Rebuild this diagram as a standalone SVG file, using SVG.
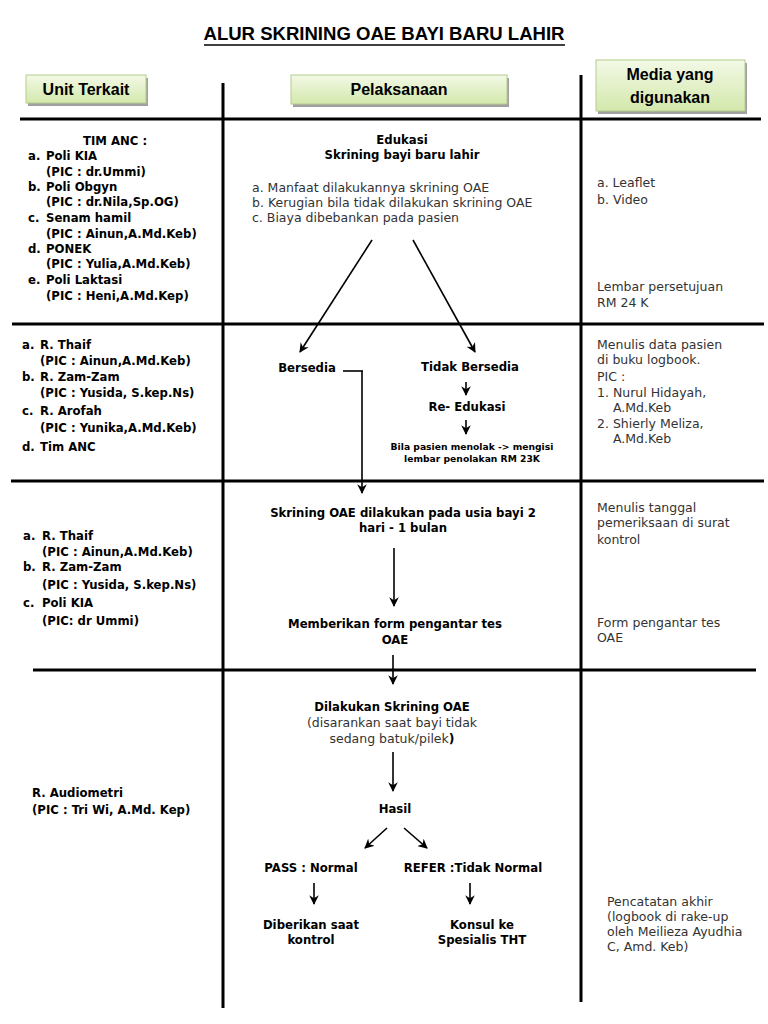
<svg xmlns="http://www.w3.org/2000/svg" width="768" height="1024" viewBox="0 0 768 1024">
<style>
text{font-family:"DejaVu Sans","Open Sans",sans-serif;fill:#000}
.b{font-weight:bold;font-size:11.7px}
.r{font-size:12.5px;fill:#333}
.s{font-weight:bold;font-size:9.2px}
.h{font-family:"Liberation Sans",Arial,sans-serif;font-weight:bold;font-size:16px}
.c{text-anchor:middle}
.sep{stroke:#000;stroke-width:3;fill:none}
.ar{stroke:#000;stroke-width:1.6;fill:none;marker-end:url(#ah)}
.ln{stroke:#000;stroke-width:1.6;fill:none}
.box{fill:url(#g);stroke:#b5cc8e;stroke-width:1}
.sh{fill:#a0a0a0}
</style>
<defs>
<linearGradient id="g" x1="0" y1="0" x2="0" y2="1"><stop offset="0" stop-color="#f3f9e6"/><stop offset="1" stop-color="#d3e8ac"/></linearGradient>
<marker id="ah" viewBox="0 0 10 10" refX="9" refY="5" markerWidth="6" markerHeight="6" orient="auto" markerUnits="strokeWidth"><path d="M0,0 L10,5 L0,10 L3,5 z" fill="#000"/></marker>
</defs>
<rect width="768" height="1024" fill="#fff"/>
<g id="title">
<text x="384" y="40" text-anchor="middle" style="font-family:'Liberation Sans',sans-serif;font-weight:bold;font-size:19px" textLength="361" lengthAdjust="spacingAndGlyphs">ALUR SKRINING OAE BAYI BARU LAHIR</text>
<line x1="204" y1="45" x2="565" y2="45" stroke="#000" stroke-width="1.5"/>
</g>
<g id="grid">
<line class="sep" x1="223" y1="83" x2="223" y2="1008"/>
<line class="sep" x1="581" y1="75" x2="581" y2="1002"/>
<line class="sep" x1="20" y1="119" x2="761" y2="119"/>
<line class="sep" x1="12" y1="324" x2="764" y2="324"/>
<line class="sep" x1="11" y1="481" x2="764" y2="481"/>
<line class="sep" x1="33" y1="670" x2="756" y2="670"/>
</g>
<g id="hdr-unit">
<rect class="sh" x="28" y="78" width="120" height="28"/>
<rect class="box" x="26" y="75" width="120" height="28"/>
<text class="h c" x="86" y="95">Unit Terkait</text>
</g>
<g id="hdr-pelaksanaan">
<rect class="sh" x="293" y="78" width="216" height="29"/>
<rect class="box" x="291" y="75" width="216" height="29"/>
<text class="h c" x="399" y="95">Pelaksanaan</text>
</g>
<g id="hdr-media">
<rect class="sh" x="598" y="63" width="149" height="51"/>
<rect class="box" x="596" y="60" width="149" height="51"/>
<text class="h c" x="670" y="80">Media yang</text>
<text class="h c" x="670" y="103">digunakan</text>
</g>
<g id="unit-1">
<text class="b c" x="115" y="145">TIM ANC :</text>
<text class="b" x="28" y="160">a.<tspan x="46">Poli KIA</tspan></text>
<text class="b" x="46" y="176">(PIC : dr.Ummi)</text>
<text class="b" x="28" y="191">b.<tspan x="46">Poli Obgyn</tspan></text>
<text class="b" x="46" y="206">(PIC : dr.Nila,Sp.OG)</text>
<text class="b" x="28" y="222">c.<tspan x="46">Senam hamil</tspan></text>
<text class="b" x="46" y="238">(PIC : Ainun,A.Md.Keb)</text>
<text class="b" x="28" y="253">d.<tspan x="46">PONEK</tspan></text>
<text class="b" x="46" y="268">(PIC : Yulia,A.Md.Keb)</text>
<text class="b" x="28" y="284">e.<tspan x="46">Poli Laktasi</tspan></text>
<text class="b" x="46" y="300">(PIC : Heni,A.Md.Kep)</text>
</g>
<g id="unit-2">
<text class="b" x="22" y="349">a.<tspan x="40">R. Thaif</tspan></text>
<text class="b" x="40" y="365">(PIC : Ainun,A.Md.Keb)</text>
<text class="b" x="22" y="381">b.<tspan x="40">R. Zam-Zam</tspan></text>
<text class="b" x="40" y="397">(PIC : Yusida, S.kep.Ns)</text>
<text class="b" x="22" y="415">c.<tspan x="40">R. Arofah</tspan></text>
<text class="b" x="40" y="432">(PIC : Yunika,A.Md.Keb)</text>
<text class="b" x="22" y="451">d.<tspan x="40">Tim ANC</tspan></text>
</g>
<g id="unit-3">
<text class="b" x="23" y="540">a.<tspan x="42">R. Thaif</tspan></text>
<text class="b" x="42" y="556">(PIC : Ainun,A.Md.Keb)</text>
<text class="b" x="23" y="571">b.<tspan x="42">R. Zam-Zam</tspan></text>
<text class="b" x="42" y="589">(PIC : Yusida, S.kep.Ns)</text>
<text class="b" x="23" y="607">c.<tspan x="42">Poli KIA</tspan></text>
<text class="b" x="42" y="625">(PIC: dr Ummi)</text>
</g>
<g id="unit-4">
<text class="b" x="32" y="797">R. Audiometri</text>
<text class="b" x="32" y="814">(PIC : Tri Wi, A.Md. Kep)</text>
</g>
<g id="edukasi">
<text class="b c" x="402" y="144">Edukasi</text>
<text class="b c" x="402" y="159">Skrining bayi baru lahir</text>
<text class="r" x="252" y="192">a. Manfaat dilakukannya skrining OAE</text>
<text class="r" x="252" y="207">b. Kerugian bila tidak dilakukan skrining OAE</text>
<text class="r" x="252" y="222">c.  Biaya dibebankan pada pasien</text>
</g>
<g id="bersedia"><text class="b c" x="307" y="372">Bersedia</text></g>
<g id="tidak-bersedia"><text class="b c" x="470" y="371">Tidak Bersedia</text></g>
<g id="re-edukasi"><text class="b c" x="467" y="411">Re- Edukasi</text></g>
<g id="menolak">
<text class="s c" x="472" y="450">Bila pasien menolak -&gt; mengisi</text>
<text class="s c" x="472" y="462">lembar penolakan RM 23K</text>
</g>
<g id="skrining-usia">
<text class="b c" x="403" y="517">Skrining OAE dilakukan pada usia bayi 2</text>
<text class="b c" x="403" y="532">hari - 1 bulan</text>
</g>
<g id="form">
<text class="b c" x="395" y="628">Memberikan form pengantar tes</text>
<text class="b c" x="395" y="644">OAE</text>
</g>
<g id="dilakukan">
<text class="b c" x="392" y="711">Dilakukan Skrining OAE</text>
<text class="r c" x="392" y="727">(disarankan saat bayi tidak</text>
<text class="r c" x="392" y="743">sedang batuk/pilek<tspan style="font-weight:bold;fill:#000">)</tspan></text>
</g>
<g id="hasil"><text class="b c" x="395" y="813">Hasil</text></g>
<g id="pass"><text class="b c" x="311" y="872">PASS : Normal</text></g>
<g id="refer"><text class="b c" x="473" y="872">REFER :Tidak Normal</text></g>
<g id="kontrol">
<text class="b c" x="311" y="929">Diberikan saat</text>
<text class="b c" x="311" y="944">kontrol</text>
</g>
<g id="konsul">
<text class="b c" x="482" y="929">Konsul ke</text>
<text class="b c" x="482" y="944">Spesialis THT</text>
</g>
<g id="media-1">
<text class="r" x="597" y="187">a. Leaflet</text>
<text class="r" x="597" y="204">b. Video</text>
<text class="r" x="597" y="291">Lembar persetujuan</text>
<text class="r" x="597" y="307">RM 24 K</text>
</g>
<g id="media-2">
<text class="r" x="597" y="349">Menulis data pasien</text>
<text class="r" x="597" y="364">di buku logbook.</text>
<text class="r" x="597" y="381">PIC :</text>
<text class="r" x="597" y="397">1. Nurul Hidayah,</text>
<text class="r" x="613" y="412">A.Md.Keb</text>
<text class="r" x="597" y="428">2. Shierly Meliza,</text>
<text class="r" x="613" y="443">A.Md.Keb</text>
</g>
<g id="media-3">
<text class="r" x="597" y="512">Menulis tanggal</text>
<text class="r" x="597" y="527">pemeriksaan di surat</text>
<text class="r" x="597" y="544">kontrol</text>
<text class="r" x="597" y="627">Form pengantar tes</text>
<text class="r" x="597" y="642">OAE</text>
</g>
<g id="media-4">
<text class="r" x="607" y="906">Pencatatan akhir</text>
<text class="r" x="607" y="921">(logbook di rake-up</text>
<text class="r" x="607" y="936">oleh Meilieza Ayudhia</text>
<text class="r" x="607" y="951">C, Amd. Keb)</text>
</g>
<g id="connectors">
<line class="ar" x1="372" y1="240" x2="300" y2="352"/>
<line class="ar" x1="413" y1="240" x2="475" y2="352"/>
<polyline class="ln" points="343,371 363,371"/>
<line class="ar" x1="362" y1="371" x2="362" y2="493"/>
<line class="ar" x1="466" y1="382" x2="466" y2="395"/>
<line class="ar" x1="466" y1="420" x2="466" y2="434"/>
<line class="ar" x1="394" y1="548" x2="394" y2="606"/>
<line class="ar" x1="393" y1="655" x2="393" y2="684"/>
<line class="ar" x1="393" y1="752" x2="393" y2="791"/>
<line class="ar" x1="387" y1="828" x2="365" y2="848"/>
<line class="ar" x1="404" y1="828" x2="427" y2="848"/>
<line class="ar" x1="314" y1="883" x2="314" y2="904"/>
<line class="ar" x1="470" y1="883" x2="470" y2="904"/>
</g>
</svg>
